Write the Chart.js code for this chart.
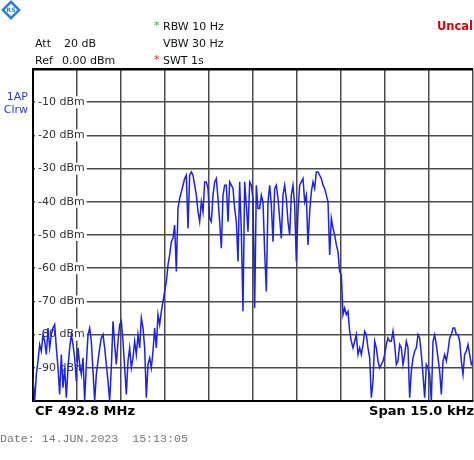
<!DOCTYPE html>
<html>
<head>
<meta charset="utf-8">
<script src="https://cdn.jsdelivr.net/npm/chart.js@4/dist/chart.umd.min.js"></script>
<style>
  body { margin: 0; background: #fff; }
  canvas { display: block; }
</style>
</head>
<body>
<canvas id="grafico" width="474" height="460"></canvas>
<script>
// analyzer settings
const centreMHz = 492.8;
const spanKHz = 15.0;
const refLevel = 0;
const levelTicks = [-10, -20, -30, -40, -50, -60, -70, -80, -90];

// trace 1 (clear/write), dBm per sweep point, left to right
const nivel = [
  -93, -100, -92, -88, -83, -85, -80, -82, -86, -78,
  -84, -80, -78, -77, -84, -90, -98, -86, -96, -90,
  -99, -90, -84, -80, -83, -87, -94, -84, -89, -92,
  -87, -100, -89, -80, -78, -82, -91, -100, -92, -88,
  -84, -81, -80, -84, -89, -94, -100, -90, -76, -83,
  -89, -82, -77, -76, -82, -90, -98, -88, -84, -90,
  -87, -82, -86, -80, -84, -75, -78, -84, -99, -89,
  -87, -90, -85, -78, -84, -74, -77, -73, -70, -67,
  -64, -59, -56, -52, -51, -47, -61, -42, -39, -37,
  -35, -33, -32, -48, -32, -31, -32, -35, -38, -43,
  -46, -40, -43, -34, -34, -36, -45, -46, -38, -34,
  -33, -39, -46, -54, -38, -35, -35, -46, -34, -35,
  -36, -42, -46, -58, -34, -49, -73, -34, -41, -49,
  -34, -35, -39, -72, -35, -42, -42, -38, -40, -55,
  -67, -40, -35, -41, -52, -36, -35, -39, -45, -51,
  -38, -35, -39, -46, -50, -38, -35, -41, -58, -43,
  -35, -34, -33, -40, -38, -53, -43, -37, -34, -36,
  -31, -31, -32, -33, -35, -36, -38, -40, -56, -45,
  -48, -50, -53, -55, -61, -62, -74, -72, -74, -73,
  -79, -82, -84, -82, -80, -86, -84, -86, -83, -79,
  -80, -84, -87, -99, -94, -82, -84, -88, -90, -89,
  -88, -86, -83, -81, -82, -82, -79, -83, -89, -88,
  -83, -84, -89, -86, -82, -84, -99, -91, -87, -85,
  -84, -80, -81, -86, -92, -99, -89, -90, -92, -100,
  -82, -80, -83, -87, -91, -98, -88, -86, -88, -85,
  -81, -80, -78, -78, -80, -80, -82, -88, -92, -86,
  -85, -83, -86, -89, -88
];

// sweep points are evenly spread over the span
const puntos = nivel.map((v, i) => ({
  x: -spanKHz / 2 + i * spanKHz / (nivel.length - 1),
  y: v
}));

const fuente = "'DejaVu Sans', Verdana, sans-serif";

const textos = {
  id: "textos",
  beforeDatasetsDraw(chart) {
    const c = chart.ctx;
    const y = chart.scales.y;
    c.save();
    c.font = "11px " + fuente;
    c.textBaseline = "middle";
    levelTicks.forEach((v) => {
      const py = y.getPixelForValue(v);
      const t = v + " dBm";
      const w = c.measureText(t).width;
      c.fillStyle = "#fff";
      c.fillRect(35, py - 6, w + 5, 12);
      c.fillStyle = "#333";
      c.fillText(t, 38, py);
    });
    c.restore();
  },
  afterDraw(chart) {
    const c = chart.ctx;
    c.save();
    c.textBaseline = "middle";

    // logo
    c.save();
    c.translate(11, 10);
    c.rotate(Math.PI / 4);
    c.fillStyle = "#2f7fd8";
    c.fillRect(-7, -7, 14, 14);
    c.fillStyle = "#fff";
    c.fillRect(-4.5, -4.5, 9, 9);
    c.restore();
    c.fillStyle = "#2f7fd8";
    c.font = "bold 6px " + fuente;
    c.textAlign = "center";
    c.fillText("RS", 11, 10);
    c.textAlign = "left";

    c.font = "11px " + fuente;
    c.fillStyle = "#111";
    c.fillText("Att", 35, 44);
    c.fillText("20 dB", 64, 44);
    c.fillText("Ref", 35, 61);
    c.fillText("0.00 dBm", 62, 61);
    c.fillText("RBW 10 Hz", 163, 27);
    c.fillText("VBW 30 Hz", 163, 44);
    c.fillText("SWT 1s", 163, 61);
    c.fillStyle = "#22b83a";
    c.fillText("*", 154, 26);
    c.fillStyle = "#e01b1b";
    c.fillText("*", 154, 60);

    c.font = "bold 11.5px " + fuente;
    c.fillStyle = "#e00000";
    c.textAlign = "right";
    c.fillText("Uncal", 473, 27);

    c.font = "11px " + fuente;
    c.fillStyle = "#1f3fd6";
    c.fillText("1AP", 28, 97);
    c.fillText("Clrw", 28, 110);

    c.font = "bold 13px " + fuente;
    c.fillStyle = "#000";
    c.fillText("Span " + spanKHz.toFixed(1) + " kHz", 474, 412);
    c.textAlign = "left";
    c.fillText("CF " + centreMHz + " MHz", 35, 412);

    c.font = "11.6px 'Liberation Mono', 'DejaVu Sans Mono', monospace";
    c.fillStyle = "#777";
    c.fillText("Date: 14.JUN.2023  15:13:05", 0, 439);
    c.restore();
  }
};

new Chart(document.querySelector("#grafico"), {
  type: "line",
  data: {
    datasets: [
      {
        label: "1AP Clrw",
        data: puntos,
        borderColor: "#1c22e6",
        borderWidth: 1.5,
        pointRadius: 0,
        tension: 0,
        fill: false
      }
    ]
  },
  options: {
    responsive: false,
    animation: false,
    layout: { padding: { left: 33, right: 1, top: 69, bottom: 59 } },
    plugins: { legend: { display: false }, tooltip: { enabled: false } },
    scales: {
      x: {
        type: "linear",
        min: -spanKHz / 2,
        max: spanKHz / 2,
        ticks: { display: false, stepSize: spanKHz / 10 },
        grid: {
          drawTicks: false,
          color: "#4a4a4a",
          lineWidth: 1.5
        },
        border: { color: "#000", width: 2 }
      },
      y: {
        min: refLevel - 100,
        max: refLevel,
        ticks: { display: false, stepSize: 10 },
        grid: {
          drawTicks: false,
          color: (c) => (c.tick && c.tick.value === refLevel ? "#000" : "#4a4a4a"),
          lineWidth: (c) => (c.tick && c.tick.value === refLevel ? 2.5 : 1.5)
        },
        border: { color: "#000", width: 2 }
      }
    }
  },
  plugins: [textos]
});
</script>
</body>
</html>
